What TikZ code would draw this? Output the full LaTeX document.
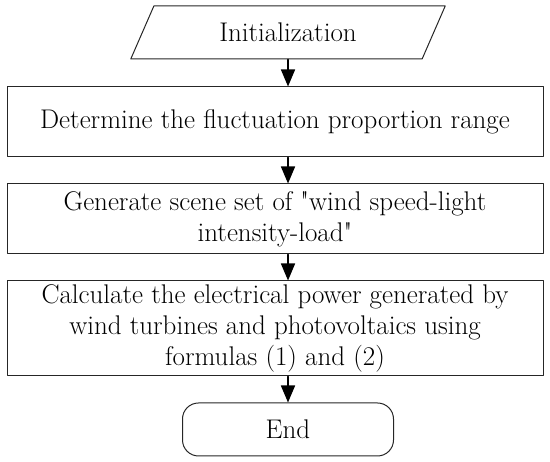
\documentclass[tikz,border=0pt]{standalone}
\usepackage{tikz}
\usetikzlibrary{arrows.meta,positioning,calc,shapes.geometric}
\tikzset{
  proc/.style={rectangle,draw=black!85,line width=1pt,minimum width=536pt,
               align=center,inner sep=0pt,font=\fontsize{27}{31}\selectfont},
  io/.style={trapezium,trapezium left angle=58,trapezium right angle=122,
             trapezium stretches=true,draw=black!85,line width=1pt,
             minimum width=315pt,minimum height=53pt,inner sep=0pt,
             font=\fontsize{27}{31}\selectfont},
  term/.style={rectangle,rounded corners=16pt,draw=black!85,line width=1pt,
               minimum width=211pt,minimum height=53pt,inner sep=0pt,
               font=\fontsize{27}{31}\selectfont},
  flow/.style={line width=1.6pt,-{Triangle[length=17pt,width=14pt]}},
  every picture/.style={line cap=round,line join=round}}
\begin{document}
\begin{tikzpicture}[x=1pt,y=1pt]
  \useasboundingbox (0,0) rectangle (550,462);
  \node[io] (init) at (288,429.5){Initialization};
  \node[proc,minimum height=70pt] (range) at (275,340){Determine the fluctuation proportion range};
  \node[proc,minimum height=70pt] (scene) at (275,243)
    {Generate scene set of \textquotedbl wind speed-light\\intensity-load\textquotedbl};
  \node[proc,minimum height=95pt] (power) at (275,133.5)
    {Calculate the electrical power generated by\\wind turbines and photovoltaics using\\formulas (1) and (2)};
  \node[term] (end) at (288,32.5){End};
  \draw[flow] (init.south) -- (init.south |- range.north);
  \draw[flow] (range.south -| init.south) -- (init.south |- scene.north);
  \draw[flow] (scene.south -| init.south) -- (init.south |- power.north);
  \draw[flow] (power.south -| end.north) -- (end.north);
\end{tikzpicture}
\end{document}
